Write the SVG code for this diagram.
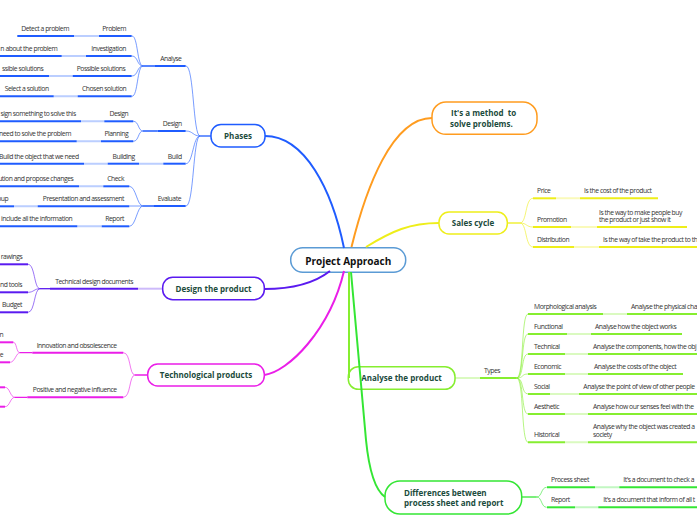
<svg xmlns="http://www.w3.org/2000/svg" width="697" height="520" viewBox="0 0 697 520">
<style>
text{font-family:"Open Sans","Liberation Sans",sans-serif;stroke:none}
.t{font-size:6.8px;letter-spacing:-0.45px;fill:#333}
.e{text-anchor:end}
.h{font-size:8px;font-weight:bold;fill:#1b4b3c;text-anchor:middle}
.hs{font-size:8px;font-weight:bold;fill:#1b4b3c}
.n{fill:#fff;stroke-width:1.5}
.u{stroke-width:2;fill:none}
.l{stroke-width:2;stroke-opacity:.3;fill:none}
.c{stroke-width:1;stroke-opacity:.6;fill:none}
.f{stroke-width:1.3;fill:none}
.m{stroke-width:2;fill:none}
.blue{stroke:#1f5cff}.orange{stroke:#ff9c1f}.yellow{stroke:#eeee1a}.lime{stroke:#86ee30}.green{stroke:#34e634}.purple{stroke:#5a1af0}.magenta{stroke:#ea1ee8}.root{stroke:#5b9bd5}
</style>

<!-- Root -->
<g id="root">
<rect class="n root" x="290.7" y="247.7" width="115" height="24.6" rx="12"/>
<text x="348.2" y="264.6" style="font-size:10px;font-weight:bold;fill:#111;text-anchor:middle">Project Approach</text>
</g>

<!-- Phases branch -->
<g id="phases"><rect class="n blue" x="211" y="124.5" width="54" height="22.5" rx="10"/><text class="h" x="238" y="139">Phases</text></g>
<g id="analyse" class="blue"><line class="u" x1="155" y1="66" x2="185.7" y2="66"/><text class="t e" x="181.5" y="61">Analyse</text></g>
<g id="problem" class="blue"><line class="u" x1="99" y1="36" x2="131.7" y2="36"/><text class="t e" x="126" y="31">Problem</text></g>
<g id="detect" class="blue"><line class="u" x1="17.3" y1="36" x2="74" y2="36"/><text class="t e" x="69" y="31">Detect a problem</text></g>
<g id="investigation" class="blue"><line class="u" x1="86" y1="56" x2="131.7" y2="56"/><text class="t e" x="126" y="51">Investigation</text></g>
<g id="investigation-c" class="blue"><line class="u" x1="0" y1="56" x2="61.7" y2="56"/><text class="t e" x="57.3" y="51">n about the problem</text></g>
<g id="possible" class="blue"><line class="u" x1="72.7" y1="76" x2="131.7" y2="76"/><text class="t e" x="125.3" y="71">Possible solutions</text></g>
<g id="possible-c" class="blue"><line class="u" x1="0" y1="76" x2="49" y2="76"/><text class="t e" x="43.3" y="71">ssible solutions</text></g>
<g id="chosen" class="blue"><line class="u" x1="77.7" y1="96.3" x2="131.7" y2="96.3"/><text class="t e" x="126.3" y="91.3">Chosen solution</text></g>
<g id="chosen-c" class="blue"><line class="u" x1="0" y1="96.3" x2="53.7" y2="96.3"/><text class="t e" x="48.7" y="91.3">Select a solution</text></g>
<g id="design-phase" class="blue"><line class="u" x1="157.7" y1="131" x2="185.7" y2="131"/><text class="t e" x="181.7" y="126">Design</text></g>
<g id="design-sub" class="blue"><line class="u" x1="104.3" y1="121.3" x2="133.3" y2="121.3"/><text class="t e" x="128.3" y="116.3">Design</text></g>
<g id="design-sub-c" class="blue"><line class="u" x1="0" y1="121.3" x2="81" y2="121.3"/><text class="t e" x="75.7" y="116.3">sign something to solve this</text></g>
<g id="planning" class="blue"><line class="u" x1="101" y1="141.3" x2="133.3" y2="141.3"/><text class="t e" x="128.3" y="136.3">Planning</text></g>
<g id="planning-c" class="blue"><line class="u" x1="0" y1="141.3" x2="76.7" y2="141.3"/><text class="t e" x="71" y="136.3">need to solve the problem</text></g>
<g id="build" class="blue"><line class="u" x1="163.3" y1="163.7" x2="185.7" y2="163.7"/><text class="t e" x="181.7" y="158.7">Build</text></g>
<g id="building" class="blue"><line class="u" x1="107.7" y1="163.7" x2="139" y2="163.7"/><text class="t e" x="134.7" y="158.7">Building</text></g>
<g id="building-c" class="blue"><line class="u" x1="0" y1="163.7" x2="84" y2="163.7"/><text class="t e" x="78.7" y="158.7">Build the object that we need</text></g>
<g id="evaluate" class="blue"><line class="u" x1="153.3" y1="206" x2="185.7" y2="206"/><text class="t e" x="181" y="201">Evaluate</text></g>
<g id="check" class="blue"><line class="u" x1="103.3" y1="186.3" x2="129.3" y2="186.3"/><text class="t e" x="124" y="181.3">Check</text></g>
<g id="check-c" class="blue"><line class="u" x1="0" y1="186.3" x2="79" y2="186.3"/><text class="t e" x="73.3" y="181.3">ution and propose changes</text></g>
<g id="presentation" class="blue"><line class="u" x1="37.7" y1="206.3" x2="129.3" y2="206.3"/><text class="t e" x="124" y="201.3">Presentation and assessment</text></g>
<g id="presentation-c" class="blue"><line class="u" x1="0" y1="206.3" x2="14" y2="206.3"/><text class="t e" x="8.3" y="201.3">oup</text></g>
<g id="report-phase" class="blue"><line class="u" x1="101.7" y1="226.3" x2="129.3" y2="226.3"/><text class="t e" x="124" y="221.3">Report</text></g>
<g id="report-phase-c" class="blue"><line class="u" x1="0" y1="226.3" x2="77.3" y2="226.3"/><text class="t e" x="72.3" y="221.3">include all the information</text></g>

<!-- Design the product -->
<g id="design-product"><rect class="n purple" x="162.7" y="277.3" width="101.6" height="22.4" rx="10"/><text class="h" x="213.5" y="291.9">Design the product</text></g>
<g id="tech-docs" class="purple"><line class="u" x1="50" y1="288.7" x2="138" y2="288.7"/><text class="t e" x="133" y="283.7">Technical design documents</text></g>
<g id="drawings" class="purple"><line class="u" x1="0" y1="264.3" x2="28" y2="264.3"/><text class="t e" x="22.3" y="259.3">rawings</text></g>
<g id="tools" class="purple"><line class="u" x1="0" y1="292.3" x2="28" y2="292.3"/><text class="t e" x="22" y="287.3">nd tools</text></g>
<g id="budget" class="purple"><line class="u" x1="0" y1="312.3" x2="28" y2="312.3"/><text class="t e" x="22" y="307.3">Budget</text></g>

<!-- Technological products -->
<g id="tech-products"><rect class="n magenta" x="147.7" y="364" width="116.6" height="22" rx="10"/><text class="h" x="206" y="378.3">Technological products</text></g>
<g id="innovation" class="magenta"><line class="u" x1="32.3" y1="352.7" x2="123.3" y2="352.7"/><text class="t e" x="116.7" y="347.7">Innovation and obsolescence</text></g>
<g id="innovation-a" class="magenta"><line class="u" x1="0" y1="342.3" x2="13.3" y2="342.3"/><text class="t e" x="3.2" y="337.3">n</text></g>
<g id="innovation-b" class="magenta"><line class="u" x1="0" y1="362.3" x2="10" y2="362.3"/><text class="t e" x="3.2" y="357.3">e</text></g>
<g id="positive" class="magenta"><line class="u" x1="27.3" y1="397.3" x2="123.3" y2="397.3"/><text class="t e" x="116.7" y="392.3">Positive and negative influence</text></g>
<g id="positive-a" class="magenta"><line class="u" x1="0" y1="387.3" x2="5" y2="387.3"/></g>
<g id="positive-b" class="magenta"><line class="u" x1="0" y1="406.7" x2="5" y2="406.7"/></g>

<!-- Method -->
<g id="method"><rect class="n orange" x="432" y="102" width="105" height="32.3" rx="14"/><text class="hs" x="451" y="116.2" xml:space="preserve">It's a method  to</text><text class="hs" x="450" y="127">solve problems.</text></g>

<!-- Sales cycle -->
<g id="sales"><rect class="n yellow" x="439" y="212" width="68.3" height="22" rx="10"/><text class="h" x="473" y="226">Sales cycle</text></g>
<g id="price" class="yellow"><line class="u" x1="533" y1="198.3" x2="556" y2="198.3"/><text class="t" x="537" y="193.3">Price</text></g>
<g id="price-c" class="yellow"><line class="u" x1="580" y1="198.3" x2="658" y2="198.3"/><text class="t" x="584" y="193.3">Is the cost of the product</text></g>
<g id="promotion" class="yellow"><line class="u" x1="533" y1="227" x2="571" y2="227"/><text class="t" x="537" y="222">Promotion</text></g>
<g id="promotion-c" class="yellow"><line class="u" x1="597" y1="227" x2="687" y2="227"/><text class="t" x="599" y="214.5">Is the way to make people buy</text><text class="t" x="599" y="222.2">the product or just show it</text></g>
<g id="distribution" class="yellow"><line class="u" x1="533" y1="247" x2="574" y2="247"/><text class="t" x="537" y="242">Distribution</text></g>
<g id="distribution-c" class="yellow"><line class="u" x1="599" y1="247" x2="697" y2="247"/><text class="t" x="603" y="242">Is the way of take the product to th</text></g>

<!-- Analyse the product -->
<g id="analyse-product"><rect class="n lime" x="348.3" y="366.7" width="106.7" height="22.6" rx="10"/><text class="h" x="401.5" y="381">Analyse the product</text></g>
<g id="types" class="lime"><line class="u" x1="480" y1="378" x2="516.7" y2="378"/><text class="t" x="484" y="373">Types</text></g>
<g id="morph" class="lime"><line class="u" x1="528" y1="314" x2="603" y2="314"/><text class="t" x="534" y="309">Morphological analysis</text></g>
<g id="morph-c" class="lime"><line class="u" x1="627" y1="314" x2="697" y2="314"/><text class="t" x="631" y="309">Analyse the physical cha</text></g>
<g id="functional" class="lime"><line class="u" x1="528" y1="334" x2="567" y2="334"/><text class="t" x="534" y="329">Functional</text></g>
<g id="functional-c" class="lime"><line class="u" x1="591" y1="334" x2="682" y2="334"/><text class="t" x="595" y="329">Analyse how the object works</text></g>
<g id="technical" class="lime"><line class="u" x1="528" y1="354" x2="565" y2="354"/><text class="t" x="534" y="349">Technical</text></g>
<g id="technical-c" class="lime"><line class="u" x1="588" y1="354" x2="697" y2="354"/><text class="t" x="593" y="349">Analyse the components, how the obj</text></g>
<g id="economic" class="lime"><line class="u" x1="528" y1="374" x2="565" y2="374"/><text class="t" x="534" y="369">Economic</text></g>
<g id="economic-c" class="lime"><line class="u" x1="588" y1="374" x2="683" y2="374"/><text class="t" x="594" y="369">Analyse the costs of the object</text></g>
<g id="social" class="lime"><line class="u" x1="528" y1="394" x2="550" y2="394"/><text class="t" x="534" y="389">Social</text></g>
<g id="social-c" class="lime"><line class="u" x1="579" y1="394" x2="697" y2="394"/><text class="t" x="583.3" y="389">Analyse the point of view of other people</text></g>
<g id="aesthetic" class="lime"><line class="u" x1="528" y1="414" x2="565" y2="414"/><text class="t" x="534" y="409">Aesthetic</text></g>
<g id="aesthetic-c" class="lime"><line class="u" x1="588" y1="414" x2="697" y2="414"/><text class="t" x="593" y="409">Analyse how our senses feel with the</text></g>
<g id="historical" class="lime"><line class="u" x1="528" y1="442.3" x2="565" y2="442.3"/><text class="t" x="534" y="437.3">Historical</text></g>
<g id="historical-c" class="lime"><line class="u" x1="588" y1="442.3" x2="697" y2="442.3"/><text class="t" x="593" y="429.2">Analyse why the object was created a</text><text class="t" x="593" y="437.2">society</text></g>

<!-- Differences -->
<g id="differences"><rect class="n green" x="385" y="481" width="136.7" height="33" rx="15"/><text class="hs" x="404" y="495.6">Differences between</text><text class="hs" x="404" y="506.3">process sheet and report</text></g>
<g id="process-sheet" class="green"><line class="u" x1="547" y1="487.3" x2="595" y2="487.3"/><text class="t" x="551" y="482.3">Process sheet</text></g>
<g id="process-sheet-c" class="green"><line class="u" x1="619.3" y1="487.3" x2="697" y2="487.3"/><text class="t" x="623.3" y="482.3">It's a document to check a</text></g>
<g id="report" class="green"><line class="u" x1="547" y1="507.3" x2="575" y2="507.3"/><text class="t" x="551" y="502.3">Report</text></g>
<g id="report-c" class="green"><line class="u" x1="598.3" y1="507.3" x2="697" y2="507.3"/><text class="t" x="603.3" y="502.3">It's a document that inform of all t</text></g>

<!-- Connectors -->
<g id="connectors">
<g class="blue">
<path class="m" d="M265,136 C305,136 332,190 344,248"/>
<path class="f" d="M211,136 H200"/>
<path class="c" d="M200,136 C193,136 194,66 186,66 M200,136 C193,136 193,131 186,131 M200,136 C193,136 193,163.7 186,163.7 M200,136 C193,136 194,206 186,206"/>
<path class="f" d="M155,66 H143 M157.7,131 H143 M153.3,206 H143"/>
<path class="c" d="M143,66 C137,66 138,36 132,36 M143,66 C137,66 138,56 132,56 M143,66 C137,66 138,76 132,76 M143,66 C137,66 138,96.3 132,96.3"/>
<path class="c" d="M143,131 C138,131 139,121.3 133.3,121.3 M143,131 C138,131 139,141.3 133.3,141.3"/>
<path class="c" d="M143,206 C137,206 136,186.3 129.3,186.3 M143,206 H129.3 M143,206 C137,206 136,226.3 129.3,226.3"/>
<path class="l" d="M74,36H99 M61.7,56H86 M49,76H72.7 M53.7,96.3H77.7 M81,121.3H104.3 M76.7,141.3H101 M139,163.7H163.3 M84,163.7H107.7 M79,186.3H103.3 M14,206.3H37.7 M77.3,226.3H101.7"/>
</g>
<g class="purple">
<path class="m" d="M264.3,289 C296,289 316,282 330,271"/>
<path class="l" d="M138,288.7H162.7"/>
<path class="f" d="M50,288.7H40"/>
<path class="c" d="M40,288.7 C34,288.7 35,264.3 28,264.3 M40,288.7 C34,288.7 34,292.3 28,292.3 M40,288.7 C34,288.7 35,312.3 28,312.3"/>
</g>
<g class="magenta">
<path class="m" d="M264.3,375 C288,372 330,330 344,271"/>
<path class="f" d="M147.7,375H135 M32.3,352.7H20 M27.3,397.3H15"/>
<path class="c" d="M135,375 C129,375 131,352.7 123.3,352.7 M135,375 C129,375 131,397.3 123.3,397.3"/>
<path class="c" d="M20,352.7 C16,352.7 17,342.3 13.3,342.3 M20,352.7 C16,352.7 15,362.3 10,362.3 M15,397.3 C10,397.3 10,387.3 5,387.3 M15,397.3 C10,397.3 10,406.7 5,406.7"/>
</g>
<g class="orange">
<path class="m" d="M351.5,247 C366,188 392,118 432,118"/>
</g>
<g class="yellow">
<path class="m" d="M366,247 C392,231 410,223 439,223"/>
<path class="f" d="M507.3,223H520"/>
<path class="c" d="M520,223 C527,223 525,198.3 533,198.3 M520,223 C527,223 526,227 533,227 M520,223 C527,223 525,247 533,247"/>
<path class="l" d="M556,198.3H580 M571,227H597 M574,247H599"/>
</g>
<g class="lime">
<path class="m" d="M349,272 C349,310 349,350 349,378"/>
<path class="l" d="M455,378H480 M603,314H627 M567,334H591 M565,354H588 M565,374H588 M550,394H579 M565,414H588 M565,442.3H588"/>
<path class="c" d="M516.7,378 C524,378 521,314 528,314 M516.7,378 C524,378 521,334 528,334 M516.7,378 C524,378 521,354 528,354 M516.7,378 C524,378 521,374 528,374 M516.7,378 C524,378 521,394 528,394 M516.7,378 C524,378 521,414 528,414 M516.7,378 C524,378 521,442.3 528,442.3"/>
</g>
<g class="green">
<path class="m" d="M351,272 L366,440 C369,470 375,490 385,497"/>
<path class="f" d="M521.7,497H536.7"/>
<path class="c" d="M536.7,497 C542,497 541,487.3 546.7,487.3 M536.7,497 C542,497 541,507.3 546.7,507.3"/>
<path class="l" d="M595,487.3H619.3 M575,507.3H598.3"/>
</g>
</g>
</svg>
